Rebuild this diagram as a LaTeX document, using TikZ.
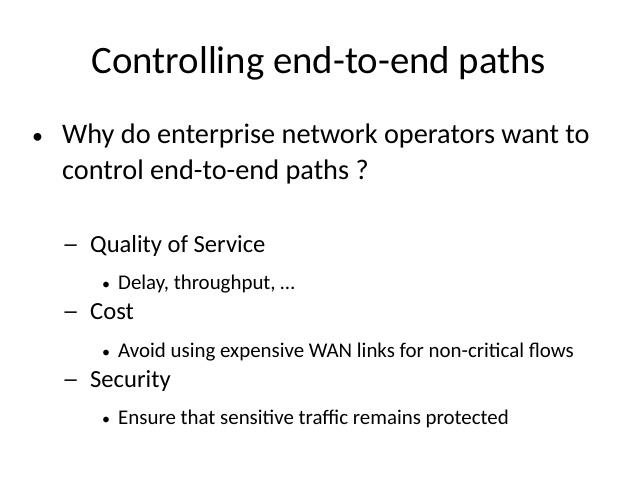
\documentclass[tikz,border=0pt]{standalone}
\usepackage{fontspec}
\setmainfont{Carlito}
\begin{document}
\begin{tikzpicture}[x=1pt,y=-1pt,
  t/.style={anchor=base west,inner sep=0pt,text=black},
  ti/.style={anchor=base,inner sep=0pt,font=\fontsize{38.8}{46}\selectfont},
  l1/.style={t,font=\fontsize{28.3}{34}\selectfont},
  l2/.style={t,font=\fontsize{24.6}{30}\selectfont},
  l3/.style={t,font=\fontsize{20.9}{25}\selectfont},
  bu/.style={t,font=\fontsize{22}{25}\selectfont},
  bs/.style={t,font=\fontsize{16}{20}\selectfont}]
\useasboundingbox (0,0) rectangle (638,478);
\node[ti] (title) at (319,74) {Controlling end-to-end paths};
\node[bu] (b1) at (32,144) {•};
\node[l1] (q1) at (62,144) {Why do enterprise network operators want to};
\node[l1] (q2) at (62,180) {control end-to-end paths ?};
\node[l2] (d1) at (62,253) {\scalebox{1.4}[1]{–}};
\node[l2] (s1) at (90,253) {Quality of Service};
\node[bs] (e1) at (102,290) {•};
\node[l3] (f1) at (118,290) {Delay, throughput, …};
\node[l2] (d2) at (62,320) {\scalebox{1.4}[1]{–}};
\node[l2] (s2) at (90,320) {Cost};
\node[bs] (e2) at (102,358) {•};
\node[l3] (f2) at (118,358) {Avoid using expensive WAN links for non-critical flows};
\node[l2] (d3) at (62,388) {\scalebox{1.4}[1]{–}};
\node[l2] (s3) at (90,388) {Security};
\node[bs] (e3) at (102,425) {•};
\node[l3] (f3) at (118,425) {Ensure that sensitive traffic remains protected};
\end{tikzpicture}
\end{document}
